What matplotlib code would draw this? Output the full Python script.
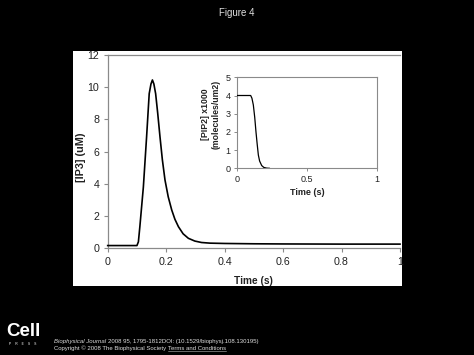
import matplotlib
matplotlib.use("Agg")
import matplotlib.pyplot as plt
from matplotlib.patches import Rectangle

# ---- data ----
time_ip3 = [0, 0.10, 0.105, 0.110, 0.122, 0.133, 0.142, 0.148, 0.153, 0.158, 0.164,
            0.171, 0.179, 0.187, 0.196, 0.207, 0.219, 0.230, 0.242, 0.258, 0.276,
            0.298, 0.321, 0.35, 0.40, 0.50, 0.60, 0.80, 1.0]
ip3 = [0.17, 0.17, 0.4, 1.34, 3.8, 6.9, 9.6, 10.2, 10.45, 10.2, 9.6,
       8.4, 6.9, 5.5, 4.24, 3.2, 2.38, 1.8, 1.34, 0.9, 0.62,
       0.45, 0.36, 0.32, 0.30, 0.28, 0.27, 0.26, 0.26]

time_pip2 = [0, 0.096, 0.105, 0.115, 0.125, 0.134, 0.143, 0.151, 0.160, 0.175, 0.19, 0.21, 0.23]
pip2 = [4.0, 4.0, 3.85, 3.48, 2.8, 2.0, 1.3, 0.73, 0.4, 0.15, 0.05, 0.01, 0.0]

main_xticks = [0, 0.2, 0.4, 0.6, 0.8, 1.0]
main_xticklabels = ["0", "0.2", "0.4", "0.6", "0.8", "1"]
main_yticks = [0, 2, 4, 6, 8, 10, 12]
inset_xticks = [0, 0.5, 1.0]
inset_xticklabels = ["0", "0.5", "1"]
inset_yticks = [0, 1, 2, 3, 4, 5]

plt.rcParams['font.family'] = ['Liberation Sans', 'DejaVu Sans']

W, H = 474, 355
fig = plt.figure(figsize=(W / 100, H / 100), dpi=100, facecolor='black')

def fx(x):
    return x / W

def fy(y):
    return 1 - y / H

# white panel
fig.patches.append(Rectangle((fx(73), fy(286)), fx(402) - fx(73), fy(51) - fy(286),
                             transform=fig.transFigure, facecolor='white',
                             edgecolor='none', zorder=-10))

gray = '#8a8a8a'
txt = '#222222'

# main axes
ax = fig.add_axes([fx(107.7), fy(248.3), fx(400) - fx(107.7), fy(55) - fy(248.3)])
ax.set_facecolor('none')
ax.plot(time_ip3, ip3, color='black', lw=1.2, zorder=3, clip_on=False)
ax.set_xlim(0, 1)
ax.set_ylim(0, 12)
ax.set_xticks(main_xticks)
ax.set_xticklabels(main_xticklabels)
ax.set_yticks(main_yticks)
for s in ['left', 'bottom', 'top']:
    ax.spines[s].set_color(gray)
    ax.spines[s].set_linewidth(0.9)
ax.spines['right'].set_visible(False)
ax.tick_params(direction='out', length=3, width=0.8, color=gray,
               labelsize=7.7, labelcolor=txt, pad=3)
fig.text(fx(253), fy(280.5), "Time (s)", ha='center', va='center',
         fontsize=7.3, fontweight='bold', color=txt)
fig.text(fx(81), fy(157), "[IP3] (uM)", ha='center', va='center', rotation=90,
         fontsize=7.8, fontweight='bold', color=txt)

# inset axes
ax2 = fig.add_axes([fx(237.3), fy(168.3), fx(376.7) - fx(237.3), fy(77.3) - fy(168.3)])
ax2.set_facecolor('white')
ax2.plot(time_pip2, pip2, color='black', lw=0.9, zorder=3)
ax2.set_xlim(0, 1)
ax2.set_ylim(0, 5)
ax2.set_xticks(inset_xticks)
ax2.set_xticklabels(inset_xticklabels)
ax2.set_yticks(inset_yticks)
for s in ['left', 'bottom', 'top', 'right']:
    ax2.spines[s].set_color(gray)
    ax2.spines[s].set_linewidth(0.8)
ax2.tick_params(direction='out', length=2.5, width=0.7, color=gray,
                labelsize=6.5, labelcolor=txt, pad=2.5)
fig.text(fx(307.3), fy(192.3), "Time (s)", ha='center', va='center',
         fontsize=6.5, fontweight='bold', color=txt)
fig.text(fx(211), fy(114), "[PIP2] x1000\n(molecules/um2)", ha='center', va='center',
         rotation=90, fontsize=6.3, fontweight='bold', color=txt,
         multialignment='center', linespacing=1.2)

# title
fig.text(fx(236.5), fy(13), "Figure 4", ha='center', va='center',
         fontsize=7, color='#e0e0e0')

# Cell Press logo
fig.text(fx(6), fy(331), "Cell", ha='left', va='center', fontsize=13.5,
         fontweight='bold', color='white')
fig.text(fx(22.5), fy(344), "P    R    E    S    S", ha='center', va='center', fontsize=2.4,
         color='white')

# footer
fcol = '#dddddd'
t1 = fig.text(fx(54.5), fy(341.7), "Biophysical Journal",
              ha='left', va='center', fontsize=4.3, color=fcol, style='italic')
fig.canvas.draw()
b1 = t1.get_window_extent()
fig.text(b1.x1 / W + 1.0 / W, fy(341.7), "2008 95, 1795-1812DOI: (10.1529/biophysj.108.130195)",
         ha='left', va='center', fontsize=4.3, color=fcol)
t2 = fig.text(fx(54.5), fy(348.6), "Copyright \u00a9 2008 The Biophysical Society ",
              ha='left', va='center', fontsize=4.3, color=fcol)
fig.canvas.draw()
bb = t2.get_window_extent()
t3 = fig.text(bb.x1 / W, fy(348.6), "Terms and Conditions",
              ha='left', va='center', fontsize=4.3, color=fcol)
fig.canvas.draw()
b3 = t3.get_window_extent()
fig.add_artist(plt.Line2D([b3.x0 / W, b3.x1 / W], [fy(351.3), fy(351.3)],
                          transform=fig.transFigure, color='#bbbbbb', lw=0.4))

fig.savefig("out.png", dpi=100, facecolor='black')
